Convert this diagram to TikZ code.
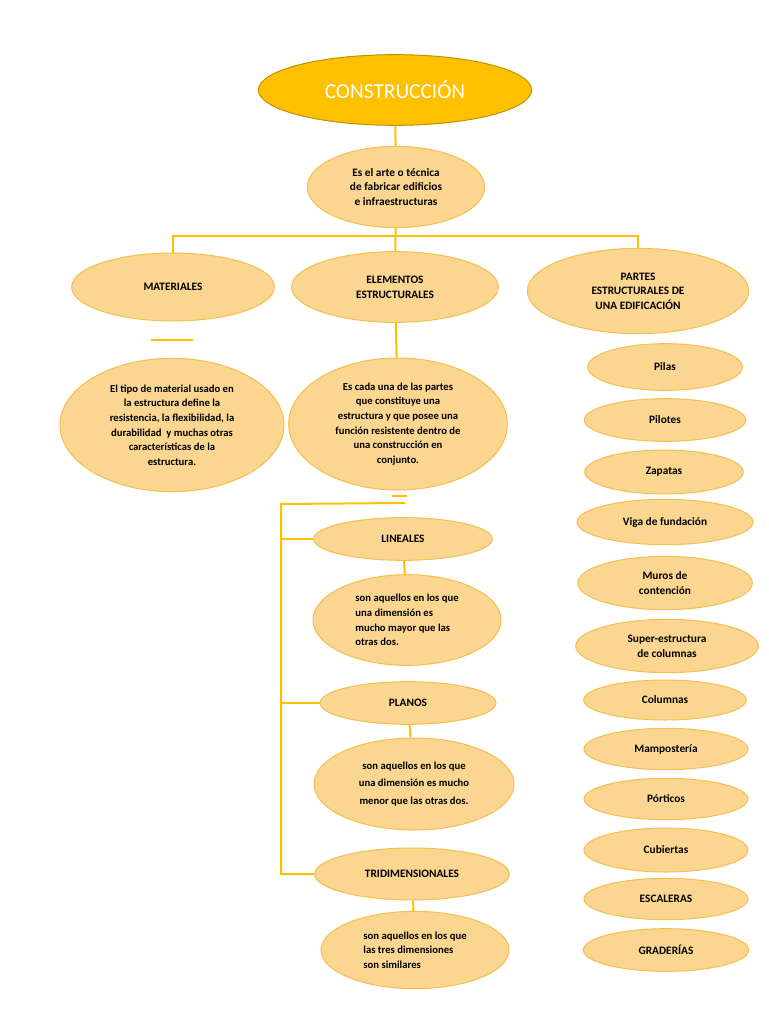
\documentclass[tikz,border=0pt]{standalone}
\usepackage{fontspec}
\setmainfont{Carlito}
\usetikzlibrary{shapes.geometric}
\definecolor{oro}{RGB}{255,192,0}
\definecolor{orobd}{RGB}{191,144,0}
\definecolor{crema}{RGB}{251,214,145}
\definecolor{cremabd}{RGB}{244,190,80}
\tikzset{every picture/.style={line width=0.75pt}}
\tikzset{
  burbuja/.style={ellipse, draw=cremabd, fill=crema, inner sep=0pt, align=center, font=\fontsize{8.5}{11}\selectfont\bfseries},
  linea/.style={draw=oro, line width=1.5pt}
}
\begin{document}
\begin{tikzpicture}[x=0.75pt,y=0.75pt,yscale=-1,xscale=1]
    \useasboundingbox (0,0) rectangle (768,1024);

    % Title
    \node [ellipse, draw=orobd, fill=oro, minimum width=205pt, minimum height=53pt, font=\fontsize{16}{18}\selectfont, text=white] (titulo) at (395,90) {CONSTRUCCIÓN};
    \node [burbuja, minimum width=133pt, minimum height=61pt] (def) at (396,187) {Es el arte o técnica\\de fabricar edificios\\e infraestructuras};

    % Level two
    \node [burbuja, minimum width=152pt, minimum height=51pt] (mat) at (173,287) {MATERIALES};
    \node [burbuja, minimum width=155pt, minimum height=53pt] (elem) at (395,287) {ELEMENTOS\\ESTRUCTURALES};
    \node [burbuja, minimum width=166pt, minimum height=64pt] (partes) at (638,291) {PARTES\\ESTRUCTURALES DE\\UNA EDIFICACIÓN};

    \node [burbuja, minimum width=168pt, minimum height=100pt, font=\fontsize{8}{11}\selectfont\bfseries] (matdesc) at (172,425) {El tipo de material usado en\\la estructura define la\\resistencia, la flexibilidad, la\\durabilidad\ \ y muchas otras\\características de la\\estructura.};
    \node [burbuja, minimum width=164pt, minimum height=99pt, font=\fontsize{8}{11}\selectfont\bfseries] (elemdesc) at (398,424) {Es cada una de las partes\\que constituye una\\estructura y que posee una\\función resistente dentro de\\una construcción en\\conjunto.};

    % Element types
    \node [burbuja, minimum width=134pt, minimum height=32pt] (lin) at (403,539) {LINEALES};
    \node [burbuja, minimum width=141pt, minimum height=68pt, align=left, font=\fontsize{8}{11}\selectfont\bfseries] (lindesc) at (407,620) {son aquellos en los que\\una dimensión es\\mucho mayor que las\\otras dos.};
    \node [burbuja, minimum width=132pt, minimum height=32pt] (plan) at (408,703) {PLANOS};
    \node [burbuja, minimum width=150pt, minimum height=69pt, font=\fontsize{8}{13}\selectfont\bfseries] (plandesc) at (414,784) {son aquellos en los que\\una dimensión es mucho\\menor que las otras dos.};
    \node [burbuja, minimum width=146pt, minimum height=39pt] (tri) at (412,874) {TRIDIMENSIONALES};
    \node [burbuja, minimum width=141pt, minimum height=58pt, align=left, font=\fontsize{8}{11}\selectfont\bfseries] (tridesc) at (415,950) {son aquellos en los que\\las tres dimensiones\\son similares};

    % Parts list
    \node [burbuja, minimum width=116pt, minimum height=35pt] (p1) at (665,367) {Pilas};
    \node [burbuja, minimum width=121pt, minimum height=32pt] (p2) at (665,420) {Pilotes};
    \node [burbuja, minimum width=119pt, minimum height=33pt] (p3) at (664,472) {Zapatas};
    \node [burbuja, minimum width=132pt, minimum height=34pt] (p4) at (665,522) {Viga de fundación};
    \node [burbuja, minimum width=131pt, minimum height=40pt] (p5) at (665,583) {Muros de\\contención};
    \node [burbuja, minimum width=137pt, minimum height=40pt] (p6) at (667,646) {Super-estructura\\de columnas};
    \node [burbuja, minimum width=122pt, minimum height=30pt] (p7) at (665,700) {Columnas};
    \node [burbuja, minimum width=123pt, minimum height=31pt] (p8) at (666,749) {Mampostería};
    \node [burbuja, minimum width=123pt, minimum height=31pt] (p9) at (666,799) {Pórticos};
    \node [burbuja, minimum width=123pt, minimum height=33pt] (p10) at (666,850) {Cubiertas};
    \node [burbuja, minimum width=123pt, minimum height=31pt] (p11) at (666,899) {ESCALERAS};
    \node [burbuja, minimum width=124pt, minimum height=32pt] (p12) at (666,950) {GRADERÍAS};

    % Connectors
    \coordinate (bus) at (397,236);
    \draw [linea] (titulo) -- (def);
    \draw [linea] (def) -- (elem);
    \draw [linea] (mat.north) |- (bus) -| (partes.north);
    \draw [linea] (elem) -- (elemdesc);
    \draw [linea] (151,340) -- (193,340);
    \draw [linea] (392,496) -- (407,496);
    \coordinate (rama) at (281,504);
    \draw [linea] (405,503) -- (rama) |- (tri.west);
    \draw [linea] (rama |- lin.west) -- (lin.west);
    \draw [linea] (rama |- plan.west) -- (plan.west);
    \draw [linea] (lin) -- (lindesc);
    \draw [linea] (plan) -- (plandesc);
    \draw [linea] (tri) -- (tridesc);

\end{tikzpicture}
\end{document}
